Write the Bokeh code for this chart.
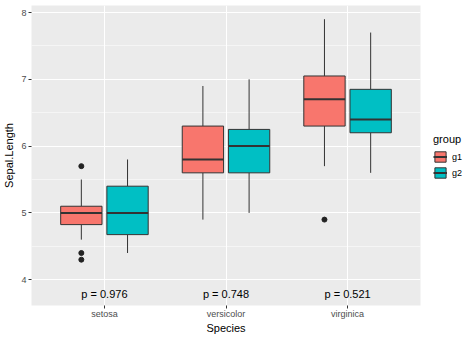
from bokeh.plotting import figure
from bokeh.models import ColumnDataSource, Range1d, FixedTicker, Legend, LegendItem
from bokeh.core.properties import value
from bokeh.embed import file_html
from bokeh.resources import INLINE

species = ["setosa", "versicolor", "virginica"]
groups = ["g1", "g2"]
colors = ["#F8766D", "#00BFC4"]

g1_lower = [4.6, 4.9, 5.7]
g1_q1 = [4.825, 5.6, 6.3]
g1_median = [5.0, 5.8, 6.7]
g1_q3 = [5.1, 6.3, 7.05]
g1_upper = [5.5, 6.9, 7.9]
g1_outliers = [[5.7, 4.4, 4.3], [], [4.9]]

g2_lower = [4.4, 5.0, 5.6]
g2_q1 = [4.675, 5.6, 6.2]
g2_median = [5.0, 6.0, 6.4]
g2_q3 = [5.4, 6.25, 6.85]
g2_upper = [5.8, 7.0, 7.7]
g2_outliers = [[], [], []]

p_values = ["p = 0.976", "p = 0.748", "p = 0.521"]

FONT = "Liberation Sans"
box_w = 0.34
offsets = [-0.19, 0.19]

p = figure(frame_width=389, frame_height=300, output_backend="svg", toolbar_location=None,
           x_range=Range1d(0.4, 3.6), y_range=Range1d(3.614, 8.105),
           min_border_left=28, min_border_right=57, min_border_top=5, min_border_bottom=33)
p.background_fill_color = "#EBEBEB"
p.border_fill_color = "white"
p.outline_line_color = None

stats = [
    (g1_lower, g1_q1, g1_median, g1_q3, g1_upper, g1_outliers),
    (g2_lower, g2_q1, g2_median, g2_q3, g2_upper, g2_outliers),
]

legend_items = []
for gi, (lo, q1, med, q3, up, outl) in enumerate(stats):
    xs = [i + 1 + offsets[gi] for i in range(len(species))]
    src = ColumnDataSource(dict(
        x=xs, left=[x - box_w / 2 for x in xs], right=[x + box_w / 2 for x in xs],
        lo=lo, q1=q1, med=med, q3=q3, up=up))
    p.segment(x0="x", y0="q3", x1="x", y1="up", source=src, line_color="#333333", line_width=1)
    p.segment(x0="x", y0="lo", x1="x", y1="q1", source=src, line_color="#333333", line_width=1)
    box = p.quad(left="left", right="right", bottom="q1", top="q3", source=src,
                 fill_color=colors[gi], line_color="#333333", line_width=1)
    medr = p.segment(x0="left", y0="med", x1="right", y1="med", source=src,
                     line_color="#333333", line_width=2)
    ox, oy = [], []
    for i, vals in enumerate(outl):
        for v in vals:
            ox.append(xs[i])
            oy.append(v)
    if ox:
        p.scatter(ox, oy, size=5, color="#222222")
    legend_items.append(LegendItem(label=groups[gi], renderers=[box, medr]))

p.text(x=[1, 2, 3], y=[3.78] * 3, text=p_values, text_align="center", text_baseline="middle",
       text_font=value(FONT), text_font_size="11px", text_color="black")

# grids
p.xgrid.ticker = FixedTicker(ticks=[1, 2, 3])
p.xgrid.grid_line_color = "white"
p.xgrid.grid_line_width = 1.1
p.ygrid.ticker = FixedTicker(ticks=[4, 5, 6, 7, 8], minor_ticks=[3.5, 4.5, 5.5, 6.5, 7.5])
p.ygrid.grid_line_color = "white"
p.ygrid.grid_line_width = 1.1
p.ygrid.minor_grid_line_color = "white"
p.ygrid.minor_grid_line_width = 0.5

# axes
p.xaxis.ticker = FixedTicker(ticks=[1, 2, 3])
p.xaxis.major_label_overrides = {1: "setosa", 2: "versicolor", 3: "virginica"}
p.yaxis.ticker = FixedTicker(ticks=[4, 5, 6, 7, 8])
for ax in (p.xaxis, p.yaxis):
    ax.axis_line_color = None
    ax.major_tick_line_color = "#333333"
    ax.major_tick_in = 0
    ax.major_tick_out = 3
    ax.minor_tick_line_color = None
    ax.major_label_text_font = FONT
    ax.major_label_text_font_size = "9px"
    ax.major_label_text_color = "#4D4D4D"
    ax.major_label_standoff = 2
    ax.axis_label_text_font = FONT
    ax.axis_label_text_font_size = "11px"
    ax.axis_label_text_font_style = "normal"
    ax.axis_label_text_color = "black"
    ax.axis_label_standoff = 3
p.xaxis.major_label_standoff = 0
p.xaxis.axis_label_standoff = 0
p.xaxis.axis_label = "Species"
p.yaxis.axis_label = "Sepal.Length"

legend = Legend(items=legend_items, title="group", location=(13, 126),
                title_text_font=FONT, title_text_font_size="11px", title_text_font_style="normal",
                title_text_color="black",
                label_text_font=FONT, label_text_font_size="9px", label_text_color="black",
                glyph_width=14, glyph_height=13, spacing=3, padding=0,
                margin=0, label_standoff=5, title_standoff=5,
                background_fill_alpha=0, border_line_color=None)
p.add_layout(legend, "right")

open("out.html", "w").write(file_html(p, INLINE))
